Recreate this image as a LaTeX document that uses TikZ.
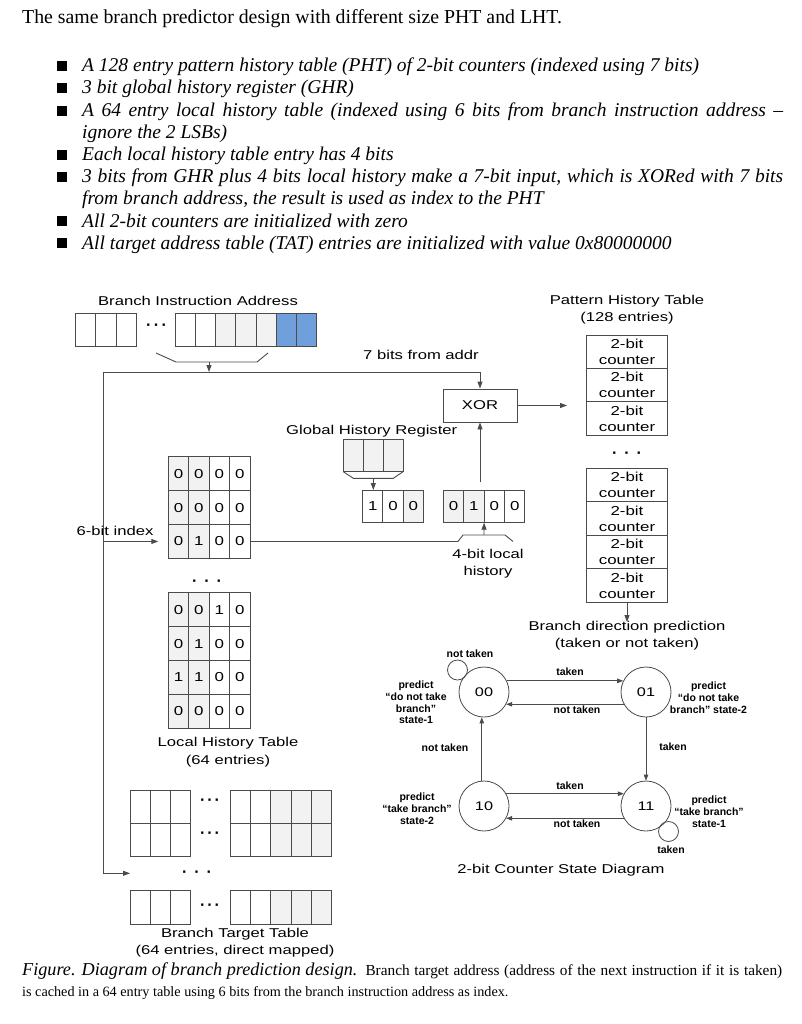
\documentclass[tikz,border=0pt]{standalone}
\usepackage{fontspec}
\setmainfont{Liberation Serif}
\newfontfamily\dgf[FakeStretch=1.3]{Liberation Sans}
\newfontfamily\dgs{Liberation Sans}
\usetikzlibrary{arrows.meta}
\definecolor{lc}{RGB}{75,75,75}
\definecolor{cg}{RGB}{242,242,242}
\definecolor{cb}{RGB}{111,160,220}
\tikzset{
  lbl/.style={font=\dgf\fontsize{12.8}{17.5}\selectfont, inner sep=0pt, align=center},
  ln/.style={draw=lc, line width=0.9pt},
  arr/.style={ln, -{Triangle[length=7pt,width=5pt]}},
  sarr/.style={draw=lc, line width=0.8pt, -{Triangle[length=6pt,width=4.5pt]}},
  cell/.style={draw=lc, line width=0.9pt, anchor=north west, inner sep=0pt, outer sep=0pt, font=\dgf\fontsize{13}{16}\selectfont},
  slbl/.style={font=\dgs\bfseries\fontsize{10.5}{11.8}\selectfont, inner sep=0pt, align=center},
  bl/.style={anchor=base west, inner sep=0pt, font=\itshape\fontsize{19.5}{22}\selectfont},
  dotsv/.style={inner sep=0pt, font=\dgs\bfseries\fontsize{16}{16}\selectfont},
  bsq/.style={fill=black, minimum size=9.5pt, inner sep=0pt},
}
\begin{document}
\begin{tikzpicture}[x=1pt,y=-1pt]
\useasboundingbox (0,0) rectangle (802,1024);
\fill[white] (0,0) rectangle (802,1024);
% ---------- header text ----------
\node[anchor=base west, inner sep=0pt, font=\fontsize{19.8}{22}\selectfont] (title) at (22,24) {The same branch predictor design with different size PHT and LHT.};
\foreach \y/\n in {66/b1,88/b2,111/b3,155/b5,177/b6,221/b8,243/b9}
  \node[bsq] (\n) at (62,\y) {};
\node[bl] (t1) at (82,72) {A 128 entry pattern history table (PHT) of 2-bit counters (indexed using 7 bits)};
\node[bl] (t2) at (82,94) {3 bit global history register (GHR)};
\node[bl] (t3) at (82,117) {\hbox to 701pt{A 64 entry local history table (indexed using 6 bits from branch instruction address –}};
\node[bl] (t4) at (82,139) {ignore the 2 LSBs)};
\node[bl] (t5) at (82,161) {Each local history table entry has 4 bits};
\node[bl] (t6) at (82,183) {\hbox to 701pt{3 bits from GHR plus 4 bits local history make a 7-bit input, which is XORed with 7 bits}};
\node[bl] (t7) at (82,205) {from branch address, the result is used as index to the PHT};
\node[bl] (t8) at (82,227) {All 2-bit counters are initialized with zero};
\node[bl] (t9) at (82,249) {All target address table (TAT) entries are initialized with value 0x80000000};
% ---------- caption ----------
\node[anchor=base west, inner sep=0pt] (cap1) at (22,975) {\hbox to 760pt{\hbox{\itshape\fontsize{18.2}{22}\selectfont Figure. Diagram of branch prediction design.}\hspace{8pt}\fontsize{15.3}{17}\selectfont Branch target address (address of the next instruction if it is taken)}};
\node[anchor=base west, inner sep=0pt, font=\fontsize{14.2}{17}\selectfont] (cap2) at (22,996) {is cached in a 64 entry table using 6 bits from the branch instruction address as index.};
% ---------- Branch instruction address ----------
\node[lbl] (biat) at (198,301) {Branch Instruction Address};
\foreach \k in {0,1,2}
  \node[cell, fill=white, minimum width=20.5, minimum height=33.5] (ba\k) at ({75+20.5*\k},313.3) {};
\node[dotsv] (bad) at (156.5,327) {·\hspace{2.5pt}·\hspace{2.5pt}·};
\foreach \k/\f in {0/white,1/white,2/cg,3/cg,4/cg,5/cb,6/cb}
  \node[cell, fill=\f, minimum width=20.25, minimum height=33.5] (bb\k) at ({175+20.25*\k},313.3) {};
\draw[ln] (156,353) -- (176,362) -- (257,362) -- (268,353);
\coordinate (bk) at (209,362);
\coordinate (vl) at (103,372);
\coordinate (tr) at (480,372);
\coordinate (bkl) at (209,372);
\draw[arr] (bk) -- (bkl);
\node[lbl] (sev) at (421,355) {7 bits from addr};
% ---------- XOR ----------
\node[draw=lc, line width=0.9pt, minimum width=74, minimum height=33, inner sep=0pt, font=\dgf\fontsize{12.8}{15}\selectfont] (xor) at (480,405.5) {XOR};
\draw[ln] (vl) -- (tr);
\draw[arr] (tr) -- (xor.north);
% ---------- PHT ----------
\node[lbl] (phtt) at (627,309.5) {Pattern History Table\\(128 entries)};
\foreach \k in {0,1,2}
  \node[cell, fill=white, minimum width=80.6, minimum height=33.4, align=center] (pa\k) at (586.7,{335+33.4*\k}) {2-bit\\counter};
\node[dotsv] (pd) at (627,455) {·\hspace{7pt}·\hspace{7pt}·};
\foreach \k in {0,1,2,3}
  \node[cell, fill=white, minimum width=80.6, minimum height=33.5, align=center] (pb\k) at (586.7,{468.3+33.5*\k}) {2-bit\\counter};
\coordinate (xe) at (567,405.5);
\draw[arr] (xor.east) -- (xe);
\coordinate (bdp) at (627,622);
\draw[arr] (pb3.south) -- (bdp);
\node[lbl] (bdpt) at (627,635.5) {Branch direction prediction\\(taken or not taken)};
% ---------- GHR ----------
\node[lbl] (ghrt) at (371.7,431) {Global History Register};
\foreach \k in {0,1,2}
  \node[cell, fill=cg, minimum width=19.9, minimum height=32.4] (g\k) at ({343.3+19.9*\k},439.3) {};
\draw[ln] (g0.south west) -- (353.3,478.3) -- (393.3,478.3) -- (g2.south east);
\coordinate (gk) at (373.3,478.3);
\foreach \k/\f/\b in {0/white/1,1/white/0,2/cg/0}
  \node[cell, fill=\f, minimum width=20.2, minimum height=32.7] (h\k) at ({362.7+20.2*\k},490) {\b};
\draw[arr] (gk) -- (gk |- h0.north);
\foreach \k/\f/\b in {0/cg/0,1/cg/1,2/white/0,3/white/0}
  \node[cell, fill=\f, minimum width=20.4, minimum height=32.7] (q\k) at ({443.3+20.4*\k},490) {\b};
\coordinate (qa) at (480,482);
\draw[arr] (qa) -- (xor.south);
\node[lbl] (flh) at (488,563.5) {4-bit local\\history};
% ---------- Local history table ----------
\foreach \r/\y/\ba/\bb/\bc/\bd in {1/456.7/0/0/0/0, 2/490.6/0/0/0/0, 3/524.5/0/1/0/0, 4/592.7/0/0/1/0, 5/626.6/0/1/0/0, 6/660.5/1/1/0/0, 7/694.4/0/0/0/0} {
  \node[cell, fill=cg, minimum width=20.43, minimum height=33.9] (l\r a) at (168.3,\y) {\ba};
  \node[cell, fill=cg, minimum width=20.43, minimum height=33.9] (l\r b) at (188.73,\y) {\bb};
  \node[cell, fill=white, minimum width=20.43, minimum height=33.9] (l\r c) at (209.16,\y) {\bc};
  \node[cell, fill=white, minimum width=20.43, minimum height=33.9] (l\r d) at (229.59,\y) {\bd};
}
\node[dotsv] (ld) at (207,583) {·\hspace{7pt}·\hspace{7pt}·};
\node[lbl] (lhtt) at (228,752) {Local History Table\\(64 entries)};
\coordinate (ix) at (158.3,541.45);
\draw[arr] (vl |- ix) -- (ix);
\node[lbl, fill=none] (sbi) at (115,531) {6-bit index};
\coordinate (qb) at (484,535);
\draw[ln] (l3d.east) -- (458,541.45) -- (463,535) -- (505,535) -- (513,541.45);
\draw[arr] (qb) -- (q1.south east);
% ---------- Branch target table ----------
\foreach \r/\y in {a/790,b/823.4,c/890.7} {
  \foreach \k in {0,1,2}
    \node[cell, fill=white, minimum width=20.23, minimum height=33.4] (tl\r\k) at ({130+20.23*\k},\y) {};
  \foreach \k/\f in {0/white,1/white,2/cg,3/cg,4/cg}
    \node[cell, fill=\f, minimum width=20.34, minimum height=33.4] (tr\r\k) at ({230+20.34*\k},\y) {};
}
\node[dotsv] (tda) at (210,802) {·\hspace{2pt}·\hspace{2pt}·};
\node[dotsv] (tdb) at (210,835) {·\hspace{2pt}·\hspace{2pt}·};
\node[dotsv] (tdc) at (210,907) {·\hspace{2pt}·\hspace{2pt}·};
\node[dotsv] (tdm) at (197,874) {·\hspace{7pt}·\hspace{7pt}·};
\coordinate (vb) at (103,873.3);
\coordinate (vbe) at (130,873.3);
\draw[ln] (vl) -- (vb);
\draw[arr] (vb) -- (vbe);
\node[lbl] (bttt) at (235,942.5) {Branch Target Table\\(64 entries, direct mapped)};
% ---------- state diagram ----------
\foreach \n/\x/\y in {00/484/692, 01/646/692, 10/484/806, 11/646/806}
  \node[circle, draw=lc, line width=0.8pt, minimum size=50pt, inner sep=0pt, font=\dgf\fontsize{12.5}{14}\selectfont] (s\n) at (\x,\y) {\n};
\node[circle, draw=lc, line width=0.8pt, minimum size=20pt, inner sep=0pt] (lp0) at (457.5,670) {};
\node[circle, draw=lc, line width=0.8pt, minimum size=20pt, inner sep=0pt] (lp1) at (668.5,831.5) {};
\draw[sarr] (s00.26) -- (s01.154);
\draw[sarr] (s01.-151) -- (s00.-29);
\draw[sarr] (s01.south) -- (s11.north);
\draw[sarr] (s10.95) -- (s00.265);
\draw[sarr] (s10.29) -- (s11.151);
\draw[sarr] (s11.-151) -- (s10.-29);
\node[slbl] (e1) at (570,672) {taken};
\node[slbl] (e2) at (577,710) {not taken};
\node[slbl] (e3) at (673,747) {taken};
\node[slbl] (e4) at (445,748) {not taken};
\node[slbl] (e5) at (570,786) {taken};
\node[slbl] (e6) at (577,824) {not taken};
\node[slbl] (e7) at (470,654) {not taken};
\node[slbl] (e8) at (671,850) {taken};
\node[slbl] (d00) at (416,702.5) {predict\\“do not take\\branch”\\state-1};
\node[slbl] (d10) at (417,809) {predict\\“take branch”\\state-2};
\node[slbl] (d01) at (708.5,698) {predict\\“do not take\\branch” state-2};
\node[slbl] (d11) at (709,812) {predict\\“take branch”\\state-1};
\node[lbl] (sdt) at (561,870) {2-bit Counter State Diagram};
\end{tikzpicture}
\end{document}
